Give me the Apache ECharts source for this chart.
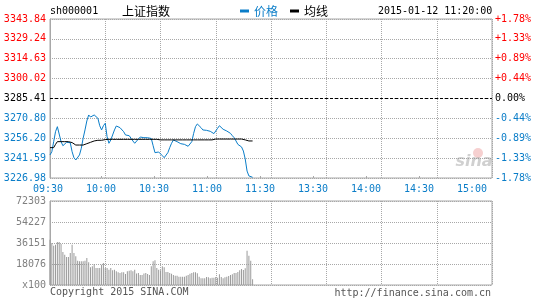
<!DOCTYPE html>
<html>
<head>
<meta charset="utf-8">
<script src="https://cdn.jsdelivr.net/npm/echarts@6/dist/echarts.min.js"></script>
<style>html,body{margin:0;padding:0;background:#fff;}#c{width:545px;height:300px;}</style>
</head>
<body>
<div id="c"></div>
<script>
const preClose = 3285.41;
const priceMin = 3226.98;
const priceMax = 3343.84;
const priceTicks = ['3226.98','3241.59','3256.20','3270.80','3285.41','3300.02','3314.63','3329.24','3343.84'];
const pctTicks = ['-1.78%','-1.33%','-0.89%','-0.44%','0.00%','+0.44%','+0.89%','+1.33%','+1.78%'];
const timeLabels = ['09:30','10:00','10:30','11:00','11:30','13:30','14:00','14:30','15:00'];
const volTicks = ['x100','18076','36151','54227','72303'];
const volMax = 72303;

// minute-by-minute price from 09:30 to 11:20
const price = [
3243.9,3246.3,3253.7,3261.0,3264.7,3265.9,3253.7,3250.7,3251.7,3253.2,
3253.7,3252.9,3246.3,3241.9,3240.2,3241.5,3243.9,3248.8,3256.2,3262.3,
3268.9,3273.3,3271.8,3271.3,3273.3,3274.5,3270.9,3265.4,3262.3,3265.4,
3267.2,3257.3,3252.5,3254.9,3258.6,3262.3,3265.2,3265.4,3264.0,3263.0,
3261.0,3258.6,3259.3,3258.1,3256.2,3254.2,3252.5,3252.5,3255.6,3257.1,
3257.3,3256.6,3256.8,3256.6,3256.4,3256.0,3250.7,3245.6,3246.3,3246.1,
3245.1,3243.4,3241.9,3242.7,3245.6,3249.3,3252.5,3254.9,3254.7,3253.7,
3253.0,3252.2,3251.7,3251.7,3251.2,3250.3,3249.5,3253.7,3259.8,3264.7,
3266.7,3266.7,3264.0,3262.3,3261.8,3262.0,3262.3,3261.3,3260.1,3259.6,
3261.0,3263.5,3265.4,3265.2,3262.8,3262.3,3261.5,3260.5,3259.8,3258.1,
3256.6,3254.2,3251.7,3251.0,3249.8,3246.8,3241.0,3232.1,3228.5,3227.2,
3227.5
];
const avg = [
3249.3,3249.3,3249.3,3251.7,3253.7,3253.7,3253.7,3253.7,3253.7,3253.7,
3253.7,3253.7,3253.0,3252.0,3251.2,3251.2,3251.2,3251.2,3251.2,3251.7,
3252.2,3252.7,3253.2,3253.7,3254.2,3254.4,3254.7,3254.7,3254.7,3255.2,
3255.2,3255.4,3255.4,3255.4,3255.4,3255.4,3255.4,3255.4,3255.4,3255.4,
3255.4,3255.4,3255.4,3255.4,3255.4,3255.4,3255.4,3255.4,3255.4,3255.4,
3255.4,3255.4,3255.4,3255.4,3255.4,3255.4,3255.4,3255.4,3255.4,3255.4,
3255.0,3255.0,3255.0,3255.0,3255.0,3255.0,3255.0,3255.0,3255.0,3255.0,
3255.0,3255.0,3255.0,3255.0,3255.0,3255.0,3255.0,3255.0,3255.0,3255.0,
3255.0,3255.0,3255.0,3255.0,3255.0,3255.0,3255.0,3255.0,3255.0,3255.0,
3255.6,3255.6,3255.6,3255.6,3255.6,3255.6,3255.6,3255.6,3255.6,3255.6,
3255.6,3255.6,3255.6,3255.6,3255.6,3255.6,3255.0,3254.2,3254.2,3254.2,
3254.2
];
const volume = [
39000,36150,33850,34700,37000,37000,35300,28400,26100,24100,
24100,27500,34700,27500,24700,20900,20400,20400,20400,20900,
23200,19500,15200,16100,18100,14600,14600,14600,17500,18900,
14600,14600,13200,14600,12600,13200,11800,10900,10300,10900,
10900,9500,11800,12300,12600,11800,13200,10000,10300,8600,
8600,9800,10300,9500,8600,16067,20371,21232,14633,13198,
12624,16067,15207,11190,11190,10329,9755,8607,8033,8033,
7172,7172,7172,7172,8033,8607,9755,10329,10903,10903,
10042,7172,5738,5738,5738,6885,6599,5738,6312,6312,
6885,6312,9181,6885,5738,6599,7172,7746,8607,9181,
10329,10329,11190,12624,13772,12900,14400,29550,25220,20916,
4906
];

const BLUE = '#0A7DC8';
const RED = '#FF0000';
const MONO = 'DejaVu Sans Mono';
const CJK = 'Noto Sans CJK SC';
const GRIDC = '#A8A8A8';

function rich() {
  const base = {fontFamily: MONO, fontSize: 10};
  return {
    b: Object.assign({color: BLUE}, base),
    k: Object.assign({color: '#000'}, base),
    r: Object.assign({color: RED}, base)
  };
}
function cls(i) { return i < 4 ? 'b' : (i === 4 ? 'k' : 'r'); }

const chart = echarts.init(document.getElementById('c'), null, {renderer: 'canvas'});
const dotted = {color: GRIDC, type: [1, 1], width: 1};

chart.setOption({
  animation: false,
  backgroundColor: '#fff',
  legend: {
    left: 240, top: 5, padding: 0,
    icon: 'rect', itemWidth: 9, itemHeight: 3, itemGap: 12,
    textStyle: {fontFamily: CJK, fontSize: 12, color: '#000'},
    data: [
      {name: '价格', textStyle: {color: BLUE}, itemStyle: {color: BLUE}},
      {name: '均线', textStyle: {color: '#000'}, itemStyle: {color: '#000'}}
    ]
  },
  grid: [
    {left: 50, top: 19, width: 442, height: 159, show: true, borderColor: GRIDC, borderWidth: 1},
    {left: 50, top: 201, width: 442, height: 84, show: true, borderColor: GRIDC, borderWidth: 1},
    {left: 48, top: 168, width: 424, height: 10, show: false}
  ],
  xAxis: [
    {gridIndex: 0, type: 'value', min: 0, max: 240, interval: 30,
     axisLine: {show: false}, axisTick: {show: false}, axisLabel: {show: false},
     splitLine: {show: true, lineStyle: dotted}},
    {gridIndex: 1, type: 'value', min: 0, max: 240, interval: 30,
     axisLine: {show: false}, axisTick: {show: false}, axisLabel: {show: false},
     splitLine: {show: true, lineStyle: dotted}},
    {gridIndex: 2, type: 'value', min: 0, max: 8, interval: 1,
     axisLine: {show: false},
     axisTick: {show: true, inside: true, length: 2, lineStyle: {color: GRIDC}, customValues: [1,2,3,4,5,6,7]},
     axisLabel: {show: true, margin: 6, color: BLUE, fontFamily: MONO, fontSize: 10,
       formatter: function (v) { return timeLabels[Math.round(v)]; }},
     splitLine: {show: false}}
  ],
  yAxis: [
    {gridIndex: 0, type: 'value', min: priceMin, max: priceMax, interval: (priceMax - priceMin) / 8,
     axisLine: {show: true, lineStyle: {color: GRIDC}}, axisTick: {show: false},
     axisLabel: {margin: 4, formatter: function (v, i) { return '{' + cls(i) + '|' + priceTicks[i] + '}'; }, rich: rich()},
     splitLine: {show: true, lineStyle: dotted}},
    {gridIndex: 0, type: 'value', position: 'right', min: priceMin, max: priceMax, interval: (priceMax - priceMin) / 8,
     axisLine: {show: false}, axisTick: {show: false},
     axisLabel: {margin: 3, formatter: function (v, i) { return '{' + cls(i) + '|' + pctTicks[i] + '}'; }, rich: rich()},
     splitLine: {show: false}},
    {gridIndex: 1, type: 'value', min: 0, max: volMax, interval: volMax / 4,
     axisLine: {show: true, lineStyle: {color: GRIDC}}, axisTick: {show: false},
     axisLabel: {margin: 4, color: '#808080', fontFamily: MONO, fontSize: 10,
       formatter: function (v, i) { return volTicks[i]; }},
     splitLine: {show: true, lineStyle: dotted}},
    {gridIndex: 2, type: 'value', show: false}
  ],
  series: [
    {name: '价格', type: 'line', xAxisIndex: 0, yAxisIndex: 0, symbol: 'none',
     lineStyle: {color: BLUE, width: 1}, itemStyle: {color: BLUE},
     data: price.map(function (v, i) { return [i, v]; }),
     markLine: {silent: true, symbol: ['none', 'none'], label: {show: false},
       lineStyle: {color: '#000', type: [3, 2], width: 1},
       data: [{yAxis: preClose}]}},
    {name: '均线', type: 'line', xAxisIndex: 0, yAxisIndex: 0, symbol: 'none',
     lineStyle: {color: '#000', width: 1}, itemStyle: {color: '#000'},
     data: avg.map(function (v, i) { return [i, v]; })},
    {name: '成交量', type: 'bar', xAxisIndex: 1, yAxisIndex: 2, barWidth: 1,
     itemStyle: {color: '#9A9A9A'},
     data: volume.map(function (v, i) { return [i, v]; })}
  ],
  graphic: [
    {type: 'text', x: 50, y: 11, style: {text: 'sh000001', font: '10px "' + MONO + '"', fill: '#000', verticalAlign: 'middle'}},
    {type: 'text', x: 122, y: 11.5, style: {text: '上证指数', font: '12px "' + CJK + '"', fill: '#000', verticalAlign: 'middle'}},
    {type: 'text', x: 378, y: 11.5, style: {text: '2015-01-12 11:20:00', font: '10px "' + MONO + '"', fill: '#000', verticalAlign: 'middle'}},
    {type: 'text', x: 50, y: 292, style: {text: 'Copyright 2015 SINA.COM', font: '10px "' + MONO + '"', fill: '#555', verticalAlign: 'middle'}},
    {type: 'text', x: 491, y: 293, style: {text: 'http://finance.sina.com.cn', font: '10px "' + MONO + '"', fill: '#555', align: 'right', verticalAlign: 'middle'}},
    {type: 'circle', shape: {cx: 478, cy: 153, r: 5}, style: {fill: 'rgba(230,120,120,0.35)'}, z: 1},
    {type: 'text', x: 474, y: 162, style: {text: 'sina', font: 'italic bold 16px "DejaVu Sans"', fill: 'rgba(150,150,150,0.45)', align: 'center', verticalAlign: 'middle'}, z: 1}
  ]
});
</script>
</body>
</html>
